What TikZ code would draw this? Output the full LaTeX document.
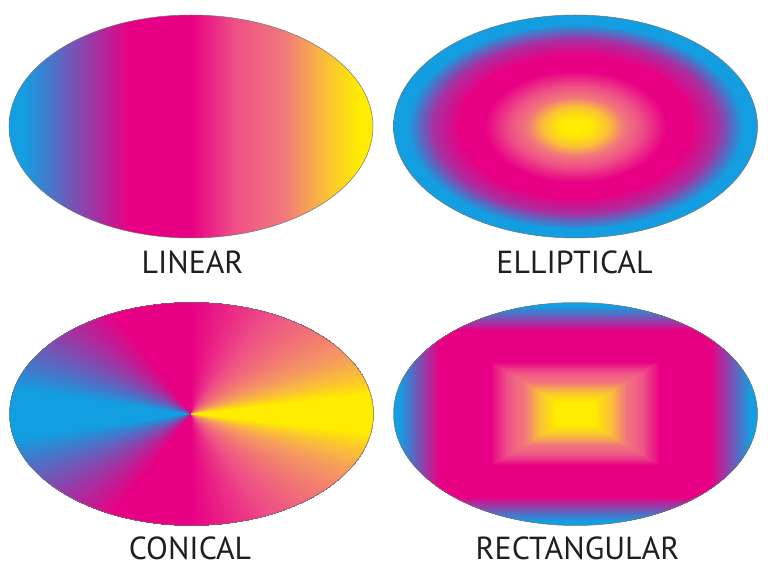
\documentclass[tikz,border=0pt]{standalone}
\usepackage{fontspec}
\setmainfont{PT Sans}

\definecolor{gcyan}{RGB}{18,158,225}
\definecolor{gmagenta}{RGB}{232,0,132}
\definecolor{gyellow}{RGB}{255,236,0}
\definecolor{gpink}{RGB}{238,80,135}
\definecolor{gsalmon}{RGB}{242,122,122}
\definecolor{gpeach}{RGB}{245,150,100}
\definecolor{gorange}{RGB}{250,192,55}
\colorlet{gmixa}{gmagenta!70!gcyan}
\colorlet{gmixb}{gmagenta!45!gcyan}
\colorlet{gmixc}{gmagenta!20!gcyan}
\colorlet{gmixd}{gmagenta!60!gcyan}

%% ramps (path box is the middle 50bp of the shading)
\pgfdeclarehorizontalshading{linearramp}{100bp}{
  color(0bp)=(gcyan); color(27bp)=(gcyan); color(41.5bp)=(gmagenta);
  color(50bp)=(gmagenta); color(56bp)=(gpink); color(63bp)=(gsalmon);
  color(68.5bp)=(gorange); color(73bp)=(gyellow); color(100bp)=(gyellow)}
\pgfdeclareradialshading{ellipseramp}{\pgfpointorigin}{
  color(0bp)=(gyellow); color(2bp)=(gyellow); color(4.5bp)=(gorange);
  color(6.5bp)=(gsalmon); color(9bp)=(gpink); color(12.5bp)=(gmagenta);
  color(16bp)=(gmagenta); color(19.5bp)=(gmixa); color(23bp)=(gcyan);
  color(50bp)=(gcyan)}

\begin{document}
\begin{tikzpicture}[x=1bp, y=-1bp]
\tikzset{
  blob/.style={x radius=182, y radius=111.5},
  outline/.style={draw=black!55, line width=0.5bp},
  lbl/.style={font=\fontsize{32}{38}\selectfont, anchor=base,
              inner sep=0pt, text=black!88},
}
\useasboundingbox (0,0) rectangle (768,576);

%% ---- CENTRES ----
\coordinate (linear)      at (191,126.5);
\coordinate (elliptical)  at (575.5,126.5);
\coordinate (conical)     at (191.5,414);
\coordinate (rectangular) at (575.5,414);

%% ---- LINEAR ----
\path[shading=linearramp] (linear) ellipse [blob];
\draw[outline] (linear) ellipse [blob];

%% ---- ELLIPTICAL ----
\path[shading=ellipseramp] (elliptical) ellipse [blob];
\draw[outline] (elliptical) ellipse [blob];

%% ---- CONICAL ----
%% fans painted from the back (cyan) to the front (yellow)
\begin{scope}
  \clip (conical) ellipse [blob];
  \fill[gcyan] (conical) ellipse [blob];
  \begin{scope}[shift={(conical)}, xscale=182, yscale=111.5]
    \foreach \a/\b/\ca/\cb [evaluate=\a as \n using {int(\a-\b)}] in
        {179/167/gcyan/gcyan, 167/157/gcyan/gmixc, 157/136/gmixc/gmixd,
         136/115/gmixd/gmagenta, 115/90/gmagenta/gmagenta, 90/64/gmagenta/gpink,
         64/33/gpink/gpeach, 33/20/gpeach/gorange, 20/10/gorange/gyellow,
         10/0/gyellow/gyellow}{
      \foreach \i [evaluate=\i as \t using {\a-\i},
                   evaluate=\i as \p using {100*\i/\n}] in {0,...,\n}{
        \colorlet{wedgecol}{\cb!\p!\ca}
        \fill[wedgecol] (0,0) -- (-\t-0.5:3) -- (-\t/2:3) -- (0:3)
          -- (\t/2:3) -- (\t+0.5:3) -- cycle;
      }
    }
  \end{scope}
\end{scope}
\draw[outline] (conical) ellipse [blob];

%% ---- RECTANGULAR ----
\begin{scope}
  \clip (rectangular) ellipse [blob];
  \begin{scope}[shift={(rectangular)}, xscale=182, yscale=111.5]
    \foreach \da/\db/\ca/\cb in {0/3/gcyan/gcyan, 3/13/gcyan/gmixb,
        13/25/gmixb/gmagenta, 25/53/gmagenta/gmagenta, 53/62/gmagenta/gpink,
        62/72/gpink/gsalmon, 72/80/gsalmon/gorange, 80/89/gorange/gyellow,
        89/99/gyellow/gyellow}{
      \foreach \d [evaluate=\d as \p using {100*(\d-\da)/(\db-\da)},
                   evaluate=\d as \r using {(100-\d)/100}] in {\da,...,\db}{
        \colorlet{ringcol}{\cb!\p!\ca}
        \fill[ringcol] (-\r,-\r) rectangle (\r,\r);
      }
    }
  \end{scope}
\end{scope}
\draw[outline] (rectangular) ellipse [blob];

%% ---- LABELS ----
\node[lbl] (linearlbl)      at (192.5,273) {LINEAR};
\node[lbl] (ellipticallbl)  at (574.5,273) {ELLIPTICAL};
\node[lbl] (conicallbl)     at (190,559)   {CONICAL};
\node[lbl] (rectangularlbl) at (577.5,559) {RECTANGULAR};

\end{tikzpicture}
\end{document}
